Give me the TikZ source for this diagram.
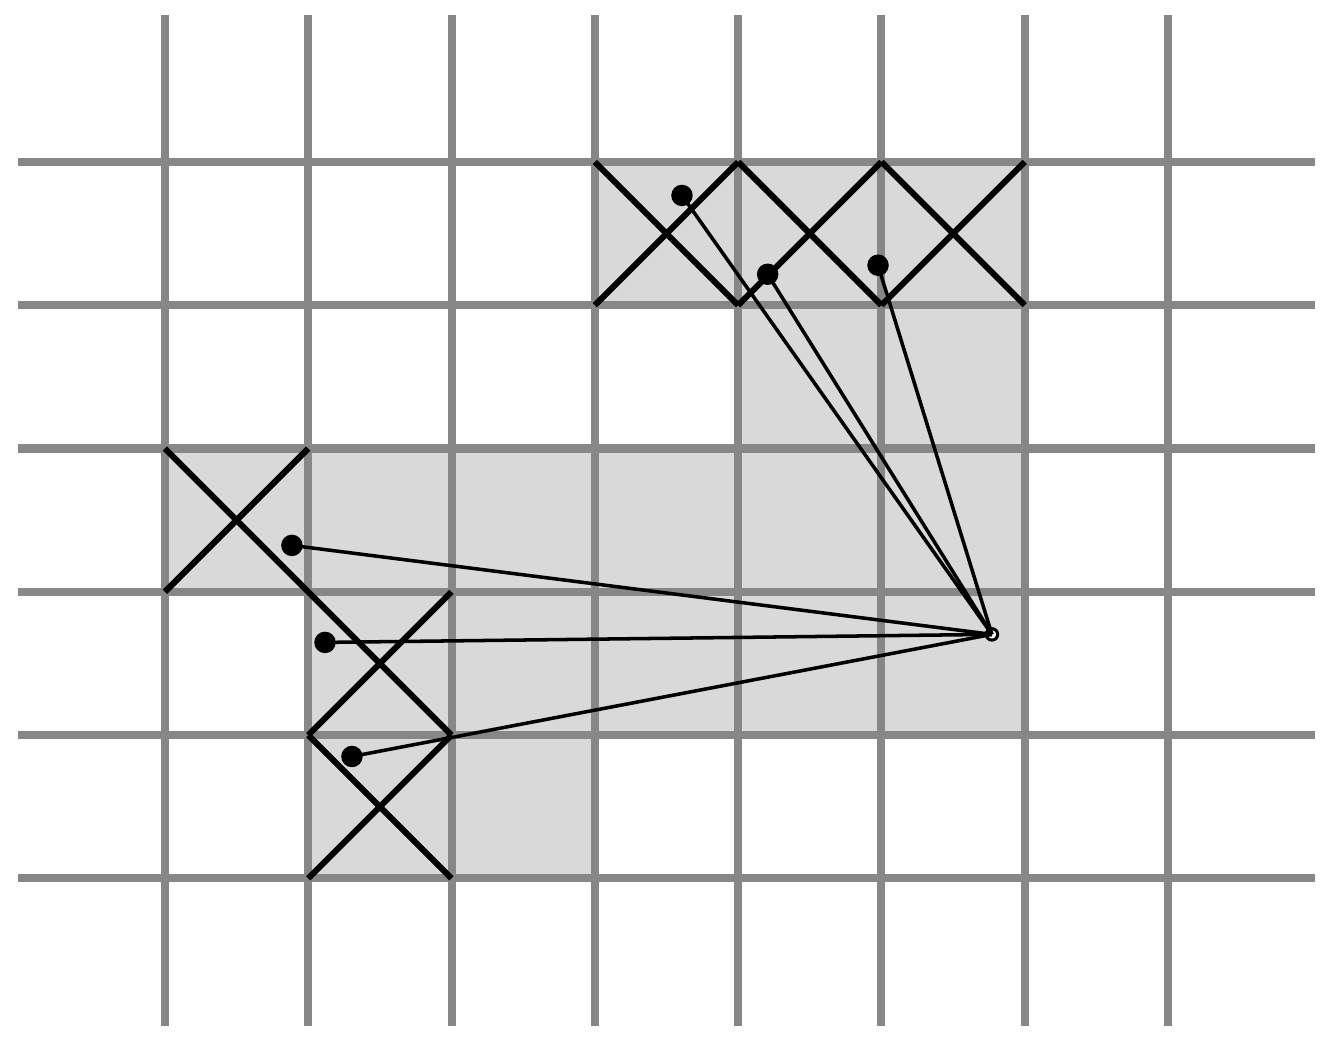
\documentclass[tikz,border=0pt]{standalone}
\usepackage{tikz}
\definecolor{gridgray}{gray}{0.53}
\definecolor{cellgray}{gray}{0.85}

\begin{document}
\begin{tikzpicture}[x=1cm,y=1cm,
  gridline/.style={gridgray,line width=1.6pt,line cap=rect},
  cross/.style={line width=1.2pt},
  ray/.style={line width=0.7pt},
  dot/.style={circle,fill,inner sep=0pt,minimum size=1.5mm},
  probe/.style={circle,draw,fill=white,line width=0.6pt,inner sep=0pt,minimum size=0.8mm}]
\useasboundingbox (-0.151,-0.218) rectangle (9.221,7.130);

% Shaded cells
\fill [cellgray] (4,5) rectangle (7,6);
\fill [cellgray] (5,4) rectangle (7,5);
\fill [cellgray] (1,3) rectangle (7,4);
\fill [cellgray] (2,2) rectangle (7,3);
\fill [cellgray] (2,1) rectangle (4,2);

% Grid
\foreach \i in {1,...,8}
  \draw [gridline] (\i,0) -- (\i,7);
\foreach \j in {1,...,6}
  \draw [gridline] (0,\j) -- (9,\j);

% Crossed cells
\foreach \x/\y in {4/5,5/5,6/5,1/3,2/2,2/1}
  \draw [cross] (\x,\y) -- ++(1,1) (\x,\y+1) -- ++(1,-1);

% Dots
\node [dot] (d1) at (4.608,5.766) {};
\node [dot] (d2) at (5.206,5.216) {};
\node [dot] (d3) at (5.976,5.279) {};
\node [dot] (d4) at (1.886,3.324) {};
\node [dot] (d5) at (2.117,2.647) {};
\node [dot] (d6) at (2.305,1.851) {};

% Probe point and rays
\node [probe] (p) at (6.771,2.703) {};
\foreach \d in {d1,d2,d3,d4,d5,d6}
  \draw [ray] (p.center) -- (\d.center);
\end{tikzpicture}
\end{document}
